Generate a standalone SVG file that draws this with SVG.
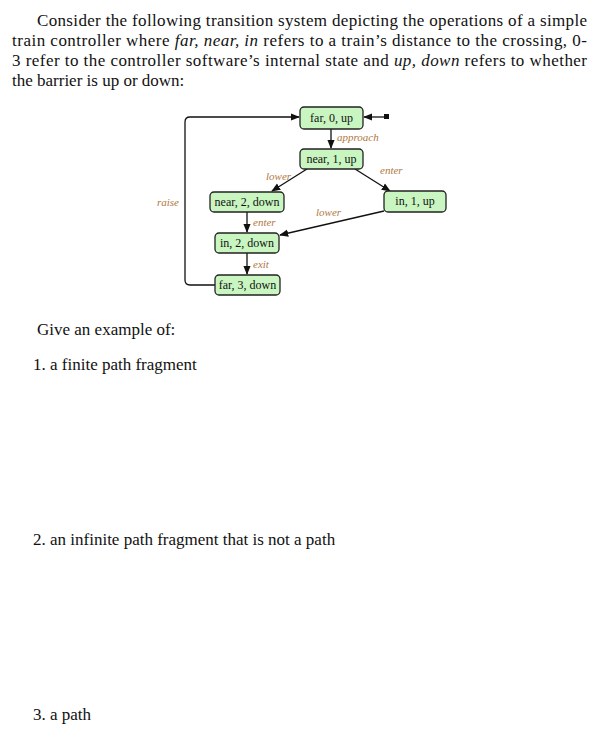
<svg xmlns="http://www.w3.org/2000/svg" width="600" height="736" viewBox="0 0 600 736">
<style>
.t{font-family:"Liberation Serif",serif;font-size:17px;fill:#111}
.n rect{fill:#c8f5c0;stroke:#222;stroke-width:1.3}
.n text{font-family:"Liberation Serif",serif;font-size:12px;fill:#111;text-anchor:middle}
.l{font-family:"Liberation Serif",serif;font-size:11px;font-style:italic;fill:#b07840}
.c path,.c line{stroke:#111;stroke-width:1.3;fill:none;marker-end:url(#a)}
</style>
<defs><marker id="a" viewBox="0 0 10 10" refX="9" refY="5" markerWidth="7" markerHeight="7" orient="auto"><path d="M0,1L10,5L0,9z" fill="#111"/></marker></defs>
<rect width="600" height="736" fill="#fff"/>
<text class="t" x="37" y="26" textLength="550" lengthAdjust="spacing">Consider the following transition system depicting the operations of a simple</text>
<text class="t" x="12" y="46" textLength="575" lengthAdjust="spacing">train controller where <tspan font-style="italic">far, near, in</tspan> refers to a train’s distance to the crossing, 0-</text>
<text class="t" x="12" y="66" textLength="575" lengthAdjust="spacing">3 refer to the controller software’s internal state and <tspan font-style="italic">up, down</tspan> refers to whether</text>
<text class="t" x="12" y="86">the barrier is up or down:</text>
<g class="c">
<path d="M215,285H190Q185,285 185,280V122Q185,117 190,117H299"/>
<line x1="384" y1="117" x2="364" y2="117"/>
<line x1="331" y1="129" x2="331" y2="148"/>
<line x1="307" y1="169" x2="272" y2="191"/>
<line x1="355" y1="169" x2="390" y2="191"/>
<line x1="247" y1="212" x2="247" y2="232"/>
<line x1="384" y1="211" x2="280" y2="235"/>
<line x1="247" y1="253" x2="247" y2="274"/>
</g>
<rect x="384" y="114" width="5" height="5" fill="#111"/>
<text class="l" x="337" y="141">approach</text>
<text class="l" x="266" y="180">lower</text>
<text class="l" x="380" y="174">enter</text>
<text class="l" x="157" y="206">raise</text>
<text class="l" x="316" y="216">lower</text>
<text class="l" x="253" y="226">enter</text>
<text class="l" x="253" y="268">exit</text>
<g id="far0" class="n"><rect x="300" y="107" width="63" height="22" rx="4"/><text x="331.5" y="122">far, 0, up</text></g>
<g id="near1" class="n"><rect x="300" y="149" width="63" height="20" rx="4"/><text x="331.5" y="163">near, 1, up</text></g>
<g id="near2" class="n"><rect x="210" y="192" width="74" height="20" rx="4"/><text x="247" y="206">near, 2, down</text></g>
<g id="in1" class="n"><rect x="384" y="191" width="62" height="21" rx="4"/><text x="415" y="205">in, 1, up</text></g>
<g id="in2" class="n"><rect x="215" y="233" width="64" height="20" rx="4"/><text x="247" y="247">in, 2, down</text></g>
<g id="far3" class="n"><rect x="215" y="275" width="65" height="20" rx="4"/><text x="247.5" y="289">far, 3, down</text></g>
<text class="t" x="37" y="335">Give an example of:</text>
<text class="t" x="33" y="370">1.  a finite path fragment</text>
<text class="t" x="33" y="545">2.  an infinite path fragment that is not a path</text>
<text class="t" x="33" y="720">3.  a path</text>
</svg>
